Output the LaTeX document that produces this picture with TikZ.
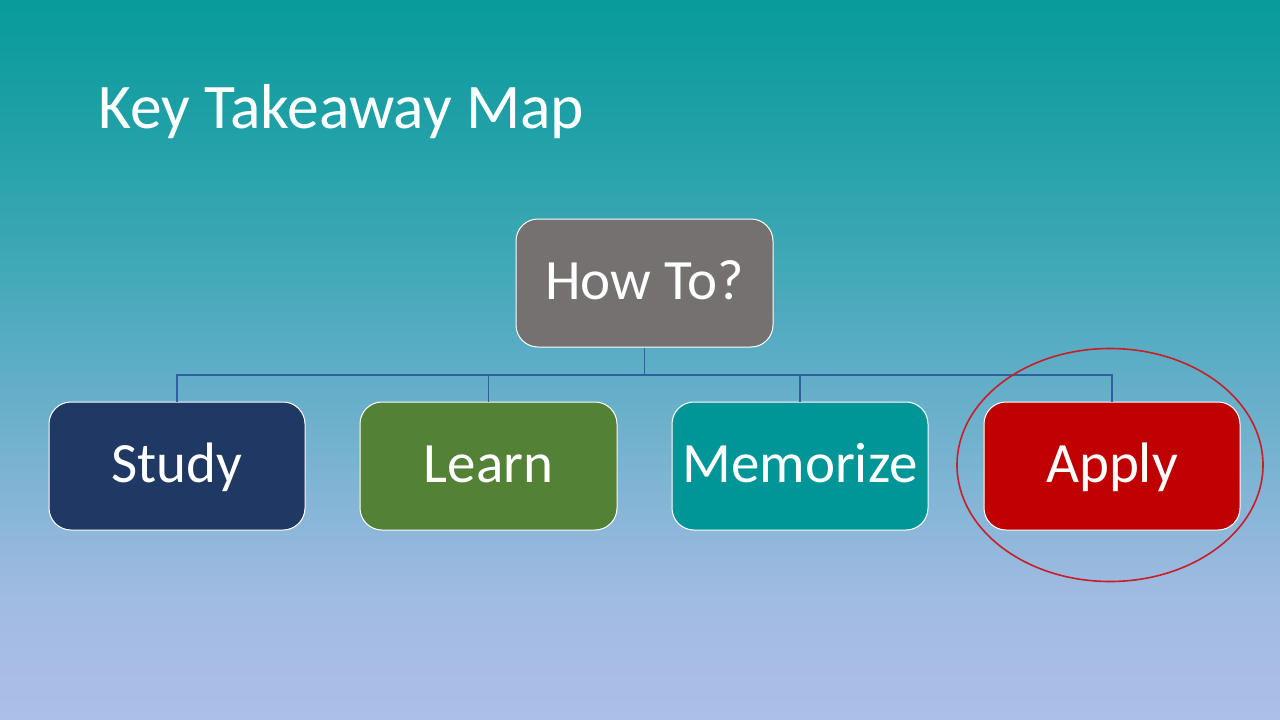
\documentclass[tikz,border=0pt]{standalone}
\usepackage{fontspec}
\setmainfont{Carlito}
\usetikzlibrary{shapes.geometric}
\definecolor{bg0}{RGB}{8,155,155}
\definecolor{bg1}{RGB}{30,160,166}
\definecolor{bg2}{RGB}{58,167,180}
\definecolor{bg3}{RGB}{92,173,197}
\definecolor{bg4}{RGB}{126,180,212}
\definecolor{bg5}{RGB}{162,187,226}
\definecolor{bg6}{RGB}{171,191,231}
\definecolor{cHow}{RGB}{118,113,113}
\definecolor{cStudy}{RGB}{31,56,100}
\definecolor{cLearn}{RGB}{83,129,53}
\definecolor{cMem}{RGB}{0,150,152}
\definecolor{cApply}{RGB}{192,0,0}
\definecolor{cLink}{RGB}{50,95,160}
\definecolor{cRing}{RGB}{200,30,40}
\tikzset{
  band/.style 2 args={top color=#1, bottom color=#2, draw=none},
  box/.style={draw=white, line width=1pt, rounded corners=22pt,
    minimum width=256pt, minimum height=128pt, inner sep=0pt,
    text=white, font=\fontsize{57}{60}\selectfont,
    text height=37pt, text depth=5pt},
  link/.style={draw=cLink, line width=1.2pt}
}
\begin{document}
\begin{tikzpicture}[x=1pt,y=-1pt]
\useasboundingbox (0,0) rectangle (1280,720);
\fill[band={bg0}{bg1}] (0,0) rectangle (1280,120.5);
\fill[band={bg1}{bg2}] (0,120) rectangle (1280,240.5);
\fill[band={bg2}{bg3}] (0,240) rectangle (1280,360.5);
\fill[band={bg3}{bg4}] (0,360) rectangle (1280,480.5);
\fill[band={bg4}{bg5}] (0,480) rectangle (1280,600.5);
\fill[band={bg5}{bg6}] (0,600) rectangle (1280,720);
\node[anchor=base west, text=white, inner sep=0pt,
  font=\fontsize{63.5}{66}\selectfont] (title) at (98,128) {Key Takeaway Map};
\node[box, fill=cHow, minimum width=257pt] (how) at (644.5,283) {How To?};
\node[box, fill=cStudy] (study) at (177,466) {Study};
\node[box, fill=cLearn, minimum width=257pt] (learn) at (488.5,466) {Learn};
\node[box, fill=cMem] (mem) at (800,466) {Memorize};
\node[box, fill=cApply] (apply) at (1112,466) {Apply};
\coordinate (bus) at (644.5,375);
\draw[link] (how.south) -- (bus);
\draw[link] (study.north) |- (bus);
\draw[link] (learn.north) |- (bus);
\draw[link] (mem.north) |- (bus);
\draw[link] (apply.north) |- (bus);
\node[draw=cRing, line width=1.6pt, ellipse, minimum width=306pt,
  minimum height=233pt, inner sep=0pt] (ring) at (1110,465) {};
\end{tikzpicture}
\end{document}
